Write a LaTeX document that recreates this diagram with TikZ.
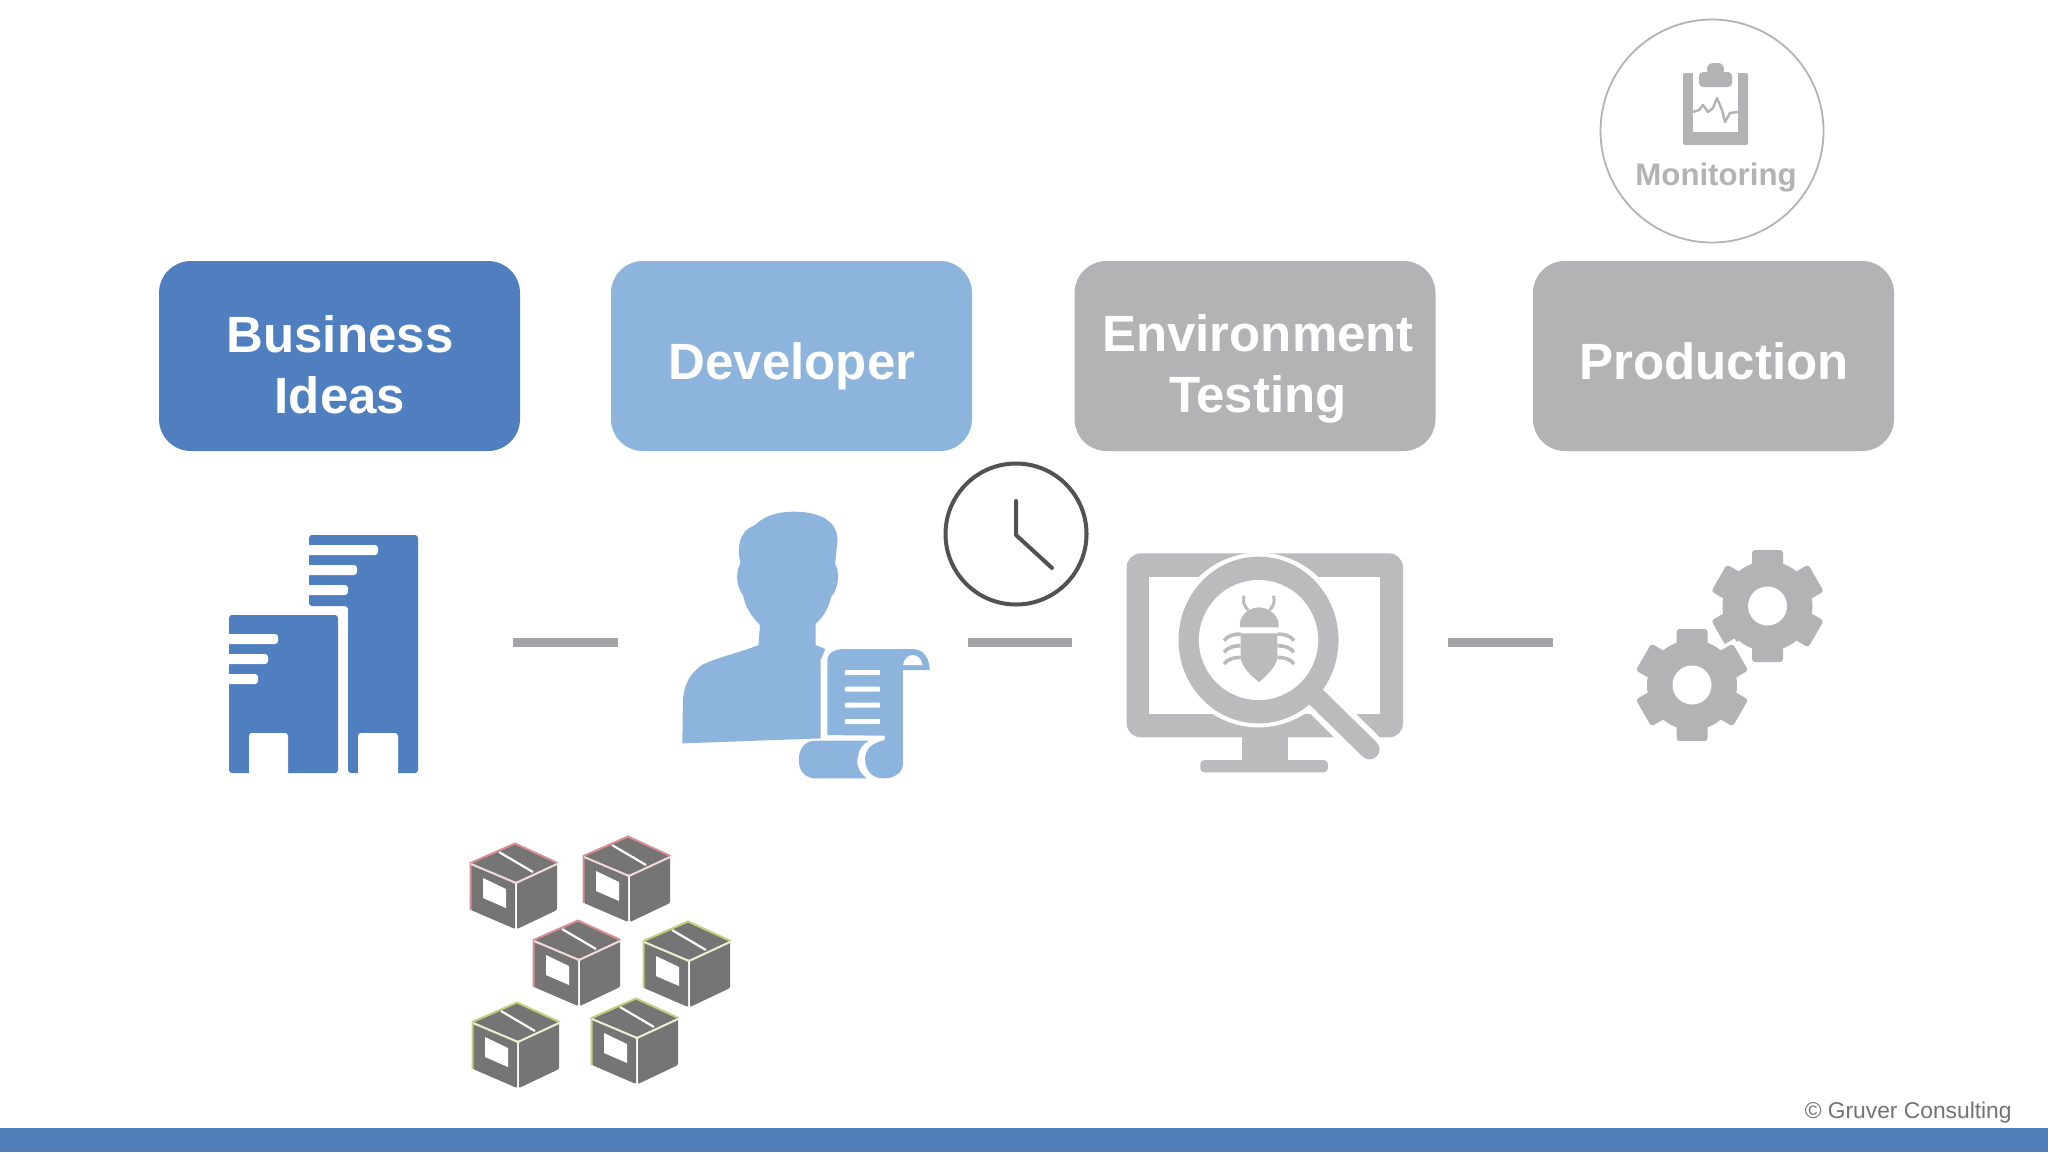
\documentclass[tikz,border=0pt]{standalone}
\usepackage{fontspec}
\setmainfont{Liberation Sans}
\usepackage{xcolor}
\definecolor{bizblue}{HTML}{4F7FBE}
\definecolor{devblue}{HTML}{8DB4DD}
\definecolor{opsgray}{HTML}{B3B3B5}
\definecolor{screengray}{HTML}{BBBBBD}
\definecolor{dashgray}{HTML}{A5A5A7}
\definecolor{crategray}{HTML}{757575}
\definecolor{barblue}{HTML}{4F7DB8}
\definecolor{crateRed}{HTML}{D98C94}
\definecolor{crateGreen}{HTML}{BFCF7A}
\tikzset{
  stagebox/.style={rectangle,rounded corners=16pt,minimum width=180.5pt,minimum height=95pt,inner sep=0pt},
  stagetext/.style={align=center,text=white,font=\fontsize{25.5}{30.5}\selectfont\bfseries,inner sep=0pt},
  linkdash/.style={draw=dashgray,line width=4.5pt},
  crate/.pic={
    \fill[crategray,rounded corners=.6pt] (0,0) -- (42,19) -- (1,38) -- (-44,19) -- cycle;
    \fill[crategray,rounded corners=.6pt] (-44,20) -- (-44,66) -- (0,85) -- (0,39) -- cycle;
    \fill[crategray,rounded corners=.6pt] (2,39) -- (42,20) -- (42,66) -- (2,85) -- cycle;
    \draw[white,line width=1.1pt] (-16,8) -- (18,28);
    \fill[white] (-32,34) -- (-9,45) -- (-9,64) -- (-32,54) -- cycle;
    \draw[#1,line width=1pt] (-44.5,66) -- (-44.5,19) -- (0,-.5) -- (42.5,19);
    \draw[#1!35!white,line width=1pt] (-44,20) -- (1,39) -- (42,20);
  },
  gearicon/.pic={
    \foreach \a in {90,30,-30,-90,-150,150}
      \fill[white,rotate=\a] (0,-19) rectangle (60,19);
    \fill[white] (0,0) circle (49);
    \foreach \a in {90,30,-30,-90,-150,150}
      \fill[opsgray,rotate=\a,rounded corners=1.5pt] (0,-15.5) rectangle (56,15.5);
    \fill[opsgray] (0,0) circle (45);
    \fill[white] (0,0) circle (19.5);
  }
}

\begin{document}
\begin{tikzpicture}[x=.5pt,y=-.5pt]
  \useasboundingbox (0,0) rectangle (2048,1152);
  \fill[white] (0,0) rectangle (2048,1152);

  % stage boxes
  \node [stagebox,fill=bizblue] (business) at (339.5,356) {};
  \node [stagebox,fill=devblue] (developer) at (791.5,356) {};
  \node [stagebox,fill=opsgray] (testing) at (1255,356) {};
  \node [stagebox,fill=opsgray] (production) at (1713.5,356) {};
  \node [stagetext] (businessText) at (340,364.5) {Business\\Ideas};
  \node [stagetext] (developerText) at (792,366) {Developer};
  \node [stagetext] (testingText) at (1258,369) {Environment\\Testing};
  \node [stagetext] (productionText) at (1714,361) {Production};

  % monitoring circle
  \node [circle,draw=opsgray,line width=.9pt,minimum size=111.5pt,inner sep=0pt] (monitoring) at (1712,131) {};
  \node [text=opsgray,font=\fontsize{15.6}{18}\selectfont\bfseries,inner sep=0pt] (monitoringText) at (1716,177) {Monitoring};
  \fill[opsgray,rounded corners=1pt] (1683,73) rectangle (1748,145);
  \fill[white] (1693,73) rectangle (1738,132);
  \fill[opsgray,rounded corners=2pt] (1699,72) rectangle (1732,87);
  \fill[opsgray,rounded corners=3pt] (1707,63) rectangle (1724,76);
  \draw[opsgray,line width=1.2pt,line join=round] (1693,112) -- (1699,110) -- (1703,105) -- (1708,112) -- (1713,108) -- (1717,98) -- (1722,110) -- (1725,122) -- (1730,113) -- (1738,112);

  % buildings
  \begin{scope}[bizblue]
    \fill[rounded corners=1.5pt] (309,535) -- (418,535) -- (418,773) -- (348,773) -- (348,606) -- (309,606) -- cycle;
    \fill[rounded corners=1.5pt] (229,615) -- (338,615) -- (338,773) -- (229,773) -- cycle;
  \end{scope}
  \fill[white,rounded corners=1.5pt] (305,545) rectangle (378,555);
  \fill[white,rounded corners=1.5pt] (305,565) rectangle (357,575);
  \fill[white,rounded corners=1.5pt] (305,585) rectangle (348,595);
  \fill[white,rounded corners=1.5pt] (225,634) rectangle (278,644);
  \fill[white,rounded corners=1.5pt] (225,654) rectangle (268,664);
  \fill[white,rounded corners=1.5pt] (225,674) rectangle (258,684);
  \fill[white,rounded corners=1.5pt] (249,733) rectangle (288,775);
  \fill[white,rounded corners=1.5pt] (358,733) rectangle (398,775);

  % person with scroll
  \begin{scope}[x=.2424pt,y=-.1667pt,xshift=100pt,yshift=-250pt]
    \fill[devblue] (995,730) -- (996,600) .. controls (1000,550) and (1008,525) .. (1035,495)
      .. controls (1070,470) and (1120,455) .. (1152,435) -- (1155,375)
      .. controls (1135,345) and (1125,320) .. (1120,285) .. controls (1105,260) and (1105,210) .. (1115,190)
      .. controls (1108,150) and (1108,95) .. (1145,75) .. controls (1165,45) and (1195,35) .. (1225,35)
      .. controls (1285,35) and (1315,70) .. (1315,120) -- (1310,190)
      .. controls (1320,215) and (1318,265) .. (1302,290) .. controls (1295,330) and (1285,350) .. (1270,372)
      -- (1270,435) -- (1290,447) -- (1280,480) -- (1280,715) -- cycle;
    \fill[devblue] (1294,705) -- (1294,480) .. controls (1294,458) and (1310,447) .. (1330,447)
      -- (1470,447) .. controls (1495,447) and (1505,480) .. (1505,510) -- (1450,510) -- (1450,790)
      .. controls (1450,820) and (1430,835) .. (1410,835) .. controls (1385,835) and (1372,810) .. (1372,775)
      .. controls (1372,750) and (1385,728) .. (1412,720) -- (1412,707) -- cycle;
    \fill[white] (1450,495) .. controls (1452,475) and (1462,465) .. (1470,465) .. controls (1482,465) and (1490,480) .. (1490,495) -- cycle;
    \fill[devblue] (1380,722) -- (1270,722) .. controls (1245,722) and (1235,750) .. (1235,780)
      .. controls (1235,815) and (1250,835) .. (1270,835) -- (1375,835)
      .. controls (1358,815) and (1352,790) .. (1358,765) .. controls (1360,745) and (1368,730) .. (1380,722) -- cycle;
    \foreach \y in {510,560,608,657}
      \fill[white,rounded corners=.5pt] (1330,\y) rectangle (1403,\y+15);
  \end{scope}

  % clock
  \node [circle,draw=black!68,line width=2pt,minimum size=70.5pt,inner sep=0pt,fill=white] (clock) at (1016,534) {};
  \coordinate (handTop) at (1016,501);
  \coordinate (handPivot) at (1016,535);
  \coordinate (handEnd) at (1052,568);
  \draw[black!68,line width=2pt,line cap=round,line join=round] (handTop) -- (handPivot) -- (handEnd);

  % monitor with magnifier and bug
  \begin{scope}[x=.2424pt,y=-.1667pt,xshift=550pt,yshift=-265pt,screengray]
    \fill[rounded corners=7pt] (55,70) rectangle (625,622);
    \fill[white] (102,140) rectangle (577,553);
    \fill (292,615) rectangle (387,695);
    \fill[rounded corners=2pt] (207,690) rectangle (470,727);
    \draw[white,line width=16pt] (445,500) -- (600,722);
    \fill[white] (327,330) ellipse (178 and 262);
    \fill (327,330) ellipse (165 and 250);
    \fill[white] (327,330) ellipse (123 and 180);
    \draw[line width=10pt,line cap=round] (445,500) -- (556,658);
    \fill (289,292) .. controls (285,260) and (305,232) .. (328,232) .. controls (350,232) and (372,260) .. (368,292) -- cycle;
    \fill (290,310) -- (366,310) -- (366,385) .. controls (360,415) and (345,435) .. (328,456) .. controls (310,435) and (295,415) .. (290,385) -- cycle;
    \draw[line width=1.5pt] (306,240) .. controls (295,225) and (295,215) .. (297,197);
    \draw[line width=1.5pt] (350,240) .. controls (360,225) and (360,215) .. (358,197);
    \foreach \y in {0,35,70} {
      \draw[line width=1.8pt] (290,312+\y) .. controls (275,312+\y) and (262,318+\y) .. (256,332+\y);
      \draw[line width=1.8pt] (366,312+\y) .. controls (381,312+\y) and (394,318+\y) .. (400,332+\y);
    }
  \end{scope}

  % gears
  \pic at (1767.5,606) {gearicon};
  \pic at (1692,685) {gearicon};

  % dashes between icons
  \coordinate (dashA1) at (513,642.5);
  \coordinate (dashA2) at (618,642.5);
  \coordinate (dashB1) at (968,642.5);
  \coordinate (dashB2) at (1072,642.5);
  \coordinate (dashC1) at (1448,642.5);
  \coordinate (dashC2) at (1553,642.5);
  \draw[linkdash] (dashA1) -- (dashA2);
  \draw[linkdash] (dashB1) -- (dashB2);
  \draw[linkdash] (dashC1) -- (dashC2);

  % crates
  \pic at (515,844) {crate=crateRed};
  \pic at (628,837) {crate=crateRed};
  \pic at (578,921) {crate=crateRed};
  \pic at (688,922) {crate=crateGreen};
  \pic at (517,1003) {crate=crateGreen};
  \pic at (636,999) {crate=crateGreen};

  % footer
  \fill[barblue] (0,1128) rectangle (2048,1152);
  \node [anchor=east,text=black!55,font=\fontsize{11.4}{14}\selectfont,inner sep=0pt] (credit) at (2012,1112.5) {© Gruver Consulting};
\end{tikzpicture}
\end{document}
